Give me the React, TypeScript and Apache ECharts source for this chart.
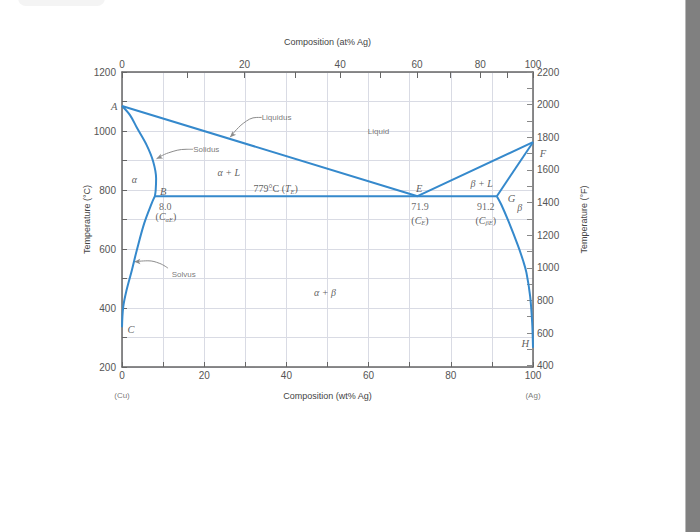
import React, { useEffect, useRef } from "react";
import * as echarts from "echarts";

// ---- unit conversions (Cu–Ag system) ----
const M_CU = 63.55;
const M_AG = 107.87;
const wtToAt = (wt: number) => {
  const a = wt / M_AG;
  const c = (100 - wt) / M_CU;
  return (a / (a + c)) * 100;
};
const atToWt = (at: number) => {
  const a = at * M_AG;
  const c = (100 - at) * M_CU;
  return (a / (a + c)) * 100;
};
const cToF = (c: number) => (c * 9) / 5 + 32;

// ---- tick labels ----
const atLabels = [0, 20, 40, 60, 80, 100];
const atTicks = [0, 10, 20, 30, 40, 50, 60, 70, 80, 90, 100];
const fLabels = [400, 600, 800, 1000, 1200, 1400, 1600, 1800, 2000, 2200];
const fTicks = [400, 500, 600, 700, 800, 900, 1000, 1100, 1200, 1300, 1400, 1500, 1600, 1700, 1800, 1900, 2000, 2100, 2200];

// ---- phase boundaries [wt% Ag, °C] ----
const liquidus = [[0, 1085], [71.9, 779], [100, 962]];
const solidusAlpha = [[0, 1085], [1.95, 1054], [3.7, 1009], [6.0, 952], [7.6, 896], [8.3, 839], [8.2, 800], [8.0, 779]];
const solvusAlpha = [[8.0, 779], [7.2, 754], [5.4, 687], [3.6, 596], [2.4, 528], [1.1, 460], [0.3, 404], [0, 335]];
const eutecticIsotherm = [[8.0, 779], [91.2, 779]];
const solidusBeta = [[91.2, 779], [100, 962]];
const solvusBeta = [[91.2, 779], [92.3, 750], [94.0, 695], [96.3, 613], [97.6, 560], [98.4, 520], [99.3, 440], [99.8, 350], [100, 265]];

// ---- leader lines for boundary names ----
const liquidusLeader = [[34.0, 1046], [32.8, 1046], [29.5, 1026], [26.3, 979]];
const solidusLeader = [[17.3, 938], [15.6, 938], [11.3, 926], [8.4, 906]];
const solvusLeader = [[11.2, 535], [9.2, 551], [6.3, 560], [3.0, 557]];
const leaderArrowRotate = [135, 115, 92];

// ---- annotations ----
const pointNames = ["A", "B", "C", "E", "F", "G", "H"];
const pointNameAt = [[-1.9, 1084], [10.0, 795], [2.2, 328], [72.3, 805], [102.4, 925], [94.8, 770], [98.1, 279]];

const regionNames = ["α", "α + L", "β + L", "β", "α + β"];
const regionNameAt = [[3.0, 836], [26.0, 861], [87.5, 822], [96.8, 740], [49.4, 451]];

const sansNames = ["Liquid", "Liquidus", "Solidus", "Solvus"];
const sansNameAt = [[62.4, 997], [37.6, 1046], [20.5, 937], [15.0, 512]];

const eutecticValues = ["8.0", "71.9", "91.2"];
const eutecticValueAt = [[10.5, 743], [72.5, 743], [88.5, 743]];
const eutecticSymbols = ["{p|(}{i|C}{s|αE}{p|)}", "{p|(}{i|C}{s|E}{p|)}", "{p|(}{i|C}{s|βE}{p|)}"];
const eutecticSymbolAt = [[10.7, 710], [72.5, 698], [88.5, 698]];

const isothermText = "{p|779°C (}{i|T}{s|E}{p|)}";
const isothermTextAt = [37.4, 805];

const endNames = ["(Cu)", "(Ag)"];
const endNameAt = [[0, 104], [100, 104]];

const BLUE = "#3589cc";
const AXIS = "#666666";
const GRID = "#d9dbe4";
const SANS = "Liberation Sans, Arial, sans-serif";
const SERIF = "Liberation Serif, Times New Roman, serif";

const noBorder = { textBorderWidth: 0, textBorderColor: "transparent", textShadowBlur: 0 };

const richSerif = {
  p: { fontFamily: SERIF, fontSize: 10, color: "#333", lineHeight: 12, verticalAlign: "middle", ...noBorder },
  i: { fontFamily: SERIF, fontSize: 10, fontStyle: "italic", color: "#333", lineHeight: 12, verticalAlign: "middle", ...noBorder },
  s: { fontFamily: SERIF, fontSize: 6.5, fontStyle: "italic", color: "#333", lineHeight: 6, verticalAlign: "bottom", ...noBorder },
};

function textItems(texts: string[], at: number[][], style: any) {
  return texts.map((t, i) => ({
    value: at[i],
    label: {
      show: true,
      formatter: t,
      position: "inside",
      align: "center",
      verticalAlign: "middle",
      color: "#333",
      ...noBorder,
      ...style,
    },
  }));
}

function boundary(name: string, data: number[][], smooth: number | boolean) {
  return {
    type: "line",
    name,
    data,
    smooth,
    symbol: "none",
    lineStyle: { color: BLUE, width: 2 },
    z: 3,
  };
}

function leader(data: number[][], rot: number) {
  return {
    type: "line",
    data: data.map((p, i) =>
      i === data.length - 1
        ? { value: p, symbol: "arrow", symbolSize: [4, 6], symbolRotate: rot }
        : { value: p, symbol: "none" }
    ),
    showSymbol: true,
    smooth: 0.4,
    lineStyle: { color: "#8c8c8c", width: 1 },
    itemStyle: { color: "#8c8c8c" },
    z: 2,
  };
}

export default function App() {
  const ref = useRef<HTMLDivElement>(null);
  useEffect(() => {
    if (!ref.current) return;
    const chart = echarts.init(ref.current, null, { renderer: "svg" });
    const tickLabel = { color: "#555", fontSize: 10, fontFamily: SANS };
    const nameStyle = { color: "#444", fontSize: 9, fontFamily: SANS };
    const annotations = [
      ...textItems(pointNames, pointNameAt, { fontFamily: SERIF, fontStyle: "italic", fontSize: 10.5, color: "#333" }),
      ...textItems(regionNames, regionNameAt, { fontFamily: SERIF, fontStyle: "italic", fontSize: 10, color: "#333" }),
      ...textItems(sansNames, sansNameAt, { fontFamily: SANS, fontSize: 8, color: "#555" }),
      ...textItems(eutecticValues, eutecticValueAt, { fontFamily: SERIF, fontSize: 10, color: "#444" }),
      ...textItems(eutecticSymbols, eutecticSymbolAt, { rich: richSerif }),
      ...textItems([isothermText], [isothermTextAt], { rich: richSerif }),
      ...textItems(endNames, endNameAt, { fontFamily: SANS, fontSize: 8, color: "#555" }),
    ];
    chart.setOption({
      animation: false,
      backgroundColor: "#ffffff",
      textStyle: { fontFamily: SANS },
      grid: { left: 122, right: 167, top: 72, bottom: 165, outerBoundsMode: "none" },
      xAxis: [
        {
          type: "value",
          position: "bottom",
          min: 0,
          max: 100,
          interval: 10,
          name: "Composition (wt% Ag)",
          nameLocation: "middle",
          nameGap: 24,
          nameMoveOverlap: false,
          nameTextStyle: nameStyle,
          axisLine: { show: true, onZero: false, lineStyle: { color: AXIS, width: 1.5 } },
          axisTick: { show: true, inside: true, length: 5, lineStyle: { color: AXIS } },
          axisLabel: { ...tickLabel, margin: 3, formatter: (v: number) => (v % 20 === 0 ? String(v) : "") },
          splitLine: { show: true, lineStyle: { color: GRID, width: 1 } },
        },
        {
          type: "value",
          position: "top",
          min: 0,
          max: 100,
          name: "Composition (at% Ag)",
          nameLocation: "middle",
          nameGap: 26,
          nameMoveOverlap: false,
          nameTextStyle: nameStyle,
          axisLine: { show: true, onZero: false, lineStyle: { color: AXIS, width: 1.5 } },
          axisTick: { show: true, inside: true, length: 6, lineStyle: { color: AXIS }, customValues: atTicks.map(atToWt) },
          axisLabel: {
            ...tickLabel,
            margin: 3,
            customValues: atLabels.map(atToWt),
            formatter: (v: number) => String(Math.round(wtToAt(v))),
          },
          splitLine: { show: false },
        },
      ],
      yAxis: [
        {
          type: "value",
          position: "left",
          min: 200,
          max: 1200,
          interval: 100,
          name: "Temperature (°C)",
          nameLocation: "middle",
          nameGap: 31,
          nameMoveOverlap: false,
          nameRotate: 90,
          nameTextStyle: nameStyle,
          axisLine: { show: true, onZero: false, lineStyle: { color: AXIS, width: 1.5 } },
          axisTick: { show: true, inside: true, length: 5, lineStyle: { color: AXIS } },
          axisLabel: { ...tickLabel, margin: 6, formatter: (v: number) => (v % 200 === 0 ? String(v) : "") },
          splitLine: { show: true, lineStyle: { color: GRID, width: 1 } },
        },
        {
          type: "value",
          position: "right",
          min: cToF(200),
          max: 2200,
          name: "Temperature (°F)",
          nameLocation: "middle",
          nameGap: 46,
          nameMoveOverlap: false,
          nameRotate: 90,
          nameTextStyle: nameStyle,
          axisLine: { show: true, onZero: false, lineStyle: { color: AXIS, width: 1.5 } },
          axisTick: { show: true, inside: true, length: 6, lineStyle: { color: "#888" }, customValues: fTicks },
          axisLabel: { ...tickLabel, margin: 4, customValues: fLabels, formatter: (v: number) => String(Math.round(v)) },
          splitLine: { show: false },
        },
      ],
      series: [
        boundary("Liquidus", liquidus, false),
        boundary("Solidus α", solidusAlpha, 0.35),
        boundary("Solvus α", solvusAlpha, 0.35),
        boundary("Eutectic isotherm", eutecticIsotherm, false),
        boundary("Solidus β", solidusBeta, false),
        boundary("Solvus β", solvusBeta, 0.35),
        leader(liquidusLeader, leaderArrowRotate[0]),
        leader(solidusLeader, leaderArrowRotate[1]),
        leader(solvusLeader, leaderArrowRotate[2]),
        {
          type: "scatter",
          data: annotations,
          symbolSize: 0,
          itemStyle: { color: "#333" },
          clip: false,
          silent: true,
          z: 5,
        },
      ],
      graphic: [
        { type: "rect", left: 18, top: -12, shape: { width: 87, height: 18, r: 8 }, style: { fill: "#f4f4f4" }, silent: true },
        { type: "rect", left: 685, top: 0, shape: { width: 15, height: 532 }, style: { fill: "#808080" }, silent: true },
        { type: "rect", left: 685, top: 0, shape: { width: 1, height: 532 }, style: { fill: "#b8b8b8" }, silent: true },
      ],
    });
    return () => chart.dispose();
  }, []);
  return <div ref={ref} style={{ position: "absolute", left: 0, top: 0, width: 700, height: 532, background: "#fff" }} />;
}
